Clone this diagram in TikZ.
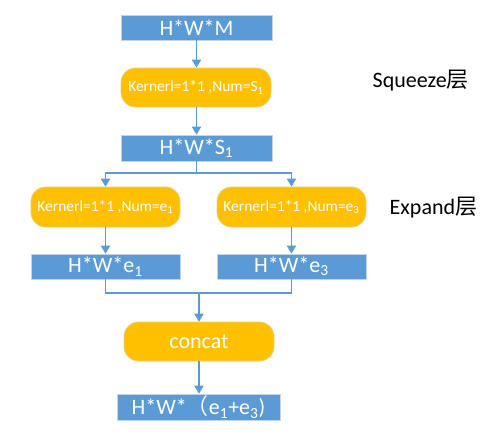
\documentclass[tikz,border=0pt]{standalone}
\usepackage{fontspec}
\setmainfont{Carlito}
\newfontfamily\cjk{Noto Sans CJK SC}
\usetikzlibrary{arrows.meta,positioning}
\definecolor{boxblue}{HTML}{5B9BD5}
\definecolor{boxorange}{HTML}{FFC000}
\definecolor{edgegray}{HTML}{C9D3DE}
\tikzset{
  bluebox/.style={draw=edgegray, line width=0.6pt, fill=boxblue, text=white, inner sep=0pt, font=\fontsize{16.5}{18}\selectfont},
  orangebox/.style={draw=boxorange!70!gray!60, line width=0.6pt, fill=boxorange, text=white, rounded corners=11pt, inner sep=0pt},
  smalltxt/.style={font=\fontsize{11.6}{13}\selectfont},
  bigtxt/.style={font=\fontsize{16.5}{18}\selectfont},
  conn/.style={draw=boxblue, line width=0.8pt},
  arr/.style={conn, -{Triangle[width=7pt,length=6pt]}},
  label/.style={text=black, font=\fontsize{16.5}{18}\selectfont}
}
\begin{document}
\begin{tikzpicture}[x=0.75pt,y=-0.75pt]
\useasboundingbox (0,0) rectangle (495,436);
% blue boxes
\node[bluebox, minimum width=151*0.75pt, minimum height=25*0.75pt] (m) at (196.5,27.5) {H*W*M};
\node[bluebox, minimum width=151*0.75pt, minimum height=26*0.75pt] (s1) at (196.5,148) {H*W*S\textsubscript{1}};
\node[bluebox, minimum width=149*0.75pt, minimum height=25*0.75pt] (e1) at (105.5,266.5) {H*W*e\textsubscript{1}};
\node[bluebox, minimum width=149*0.75pt, minimum height=25*0.75pt] (e3) at (291.5,266.5) {H*W*e\textsubscript{3}};
\node[bluebox, minimum width=163*0.75pt, minimum height=26*0.75pt] (out) at (198.5,407) {H*W*{\cjk （}e\textsubscript{1}+e\textsubscript{3})};
% orange boxes
\node[orangebox, smalltxt, minimum width=150*0.75pt, minimum height=39*0.75pt] (sq) at (196,87.5) {Kernerl=1*1 ,Num=S\textsubscript{1}};
\node[orangebox, smalltxt, minimum width=149*0.75pt, minimum height=40*0.75pt] (k1) at (105.5,207) {Kernerl=1*1 ,Num=e\textsubscript{1}};
\node[orangebox, smalltxt, minimum width=149*0.75pt, minimum height=40*0.75pt] (k3) at (291.5,207) {Kernerl=1*1 ,Num=e\textsubscript{3}};
\node[orangebox, bigtxt, minimum width=150*0.75pt, minimum height=39*0.75pt] (cc) at (199,341.5) {concat};
% labels
\node[label, anchor=west] (lsq) at (368,81) {Squeeze{\cjk 层}};
\node[label, anchor=west] (lex) at (385,208) {Expand{\cjk 层}};
% connectors
\coordinate (bj) at (196.5,173);
\coordinate (mj) at (199,293);
\draw[arr] (m.south) -- (m.south |- sq.north);
\draw[arr] (sq.south -| s1.north) -- (s1.north);
\draw[conn] (s1.south) -- (bj);
\draw[arr] (bj) -| (k1.north);
\draw[arr] (bj) -| (k3.north);
\draw[arr] (k1.south) -- (e1.north);
\draw[arr] (k3.south) -- (e3.north);
\draw[conn] (e1.south) |- (mj) -| (e3.south);
\draw[arr] (mj) -- (cc.north);
\draw[arr] (cc.south) -- (cc.south |- out.north);
\end{tikzpicture}
\end{document}
